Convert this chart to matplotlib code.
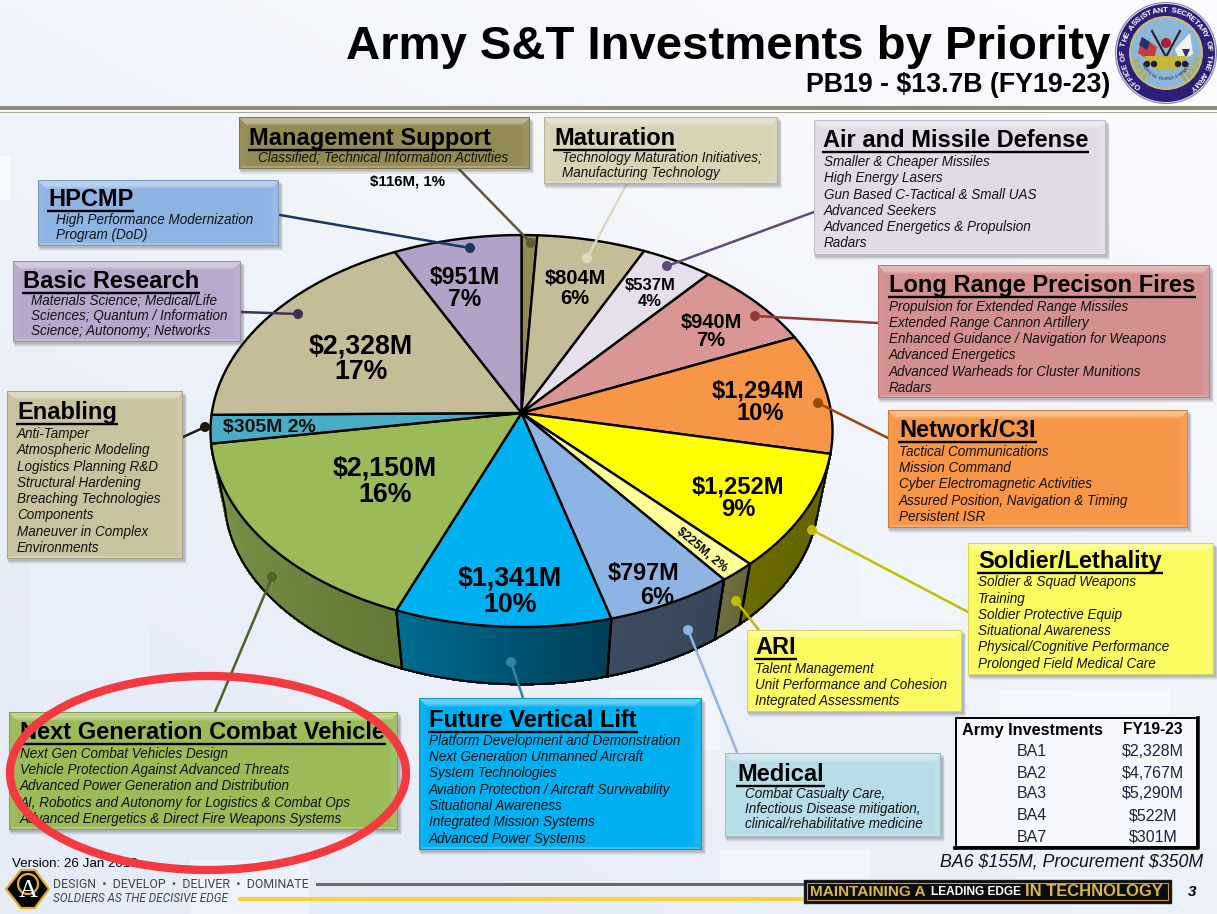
import numpy as np
import matplotlib
matplotlib.use('Agg')
import matplotlib.pyplot as plt
from matplotlib.patches import Polygon, Rectangle, Ellipse, Circle
from matplotlib.colors import to_rgb

plt.rcParams['font.family'] = ['Liberation Sans', 'DejaVu Sans']

# S&T portfolio, clockwise from twelve o'clock ($M)
priorities = ['Management Support', 'Maturation', 'Air and Missile Defense', 'Long Range Precison Fires',
              'Network/C3I', 'Soldier/Lethality', 'ARI', 'Medical', 'Future Vertical Lift',
              'Next Generation Combat Vehicle', 'Enabling', 'Basic Research', 'HPCMP']
amounts = [116, 804, 537, 940, 1294, 1252, 225, 797, 1341, 2150, 305, 2328, 951]
percents = [1, 6, 4, 7, 10, 9, 2, 6, 10, 16, 2, 17, 7]

items = {
    'Management Support': ['Classified; Technical Information Activities'],
    'Maturation': ['Technology Maturation Initiatives;', 'Manufacturing Technology'],
    'Air and Missile Defense': ['Smaller & Cheaper Missiles', 'High Energy Lasers', 'Gun Based C-Tactical & Small UAS',
                                'Advanced Seekers', 'Advanced Energetics & Propulsion', 'Radars'],
    'Long Range Precison Fires': ['Propulsion for Extended Range Missiles', 'Extended Range Cannon Artillery',
                                  'Enhanced Guidance / Navigation for Weapons', 'Advanced Energetics',
                                  'Advanced Warheads for Cluster Munitions', 'Radars'],
    'Network/C3I': ['Tactical Communications', 'Mission Command', 'Cyber Electromagnetic Activities',
                    'Assured Position, Navigation & Timing', 'Persistent ISR'],
    'Soldier/Lethality': ['Soldier & Squad Weapons', 'Training', 'Soldier Protective Equip', 'Situational Awareness',
                          'Physical/Cognitive Performance', 'Prolonged Field Medical Care'],
    'ARI': ['Talent Management', 'Unit Performance and Cohesion', 'Integrated Assessments'],
    'Medical': ['Combat Casualty Care,', 'Infectious Disease mitigation,', 'clinical/rehabilitative medicine'],
    'Future Vertical Lift': ['Platform Development and Demonstration', 'Next Generation Unmanned Aircraft',
                             'System Technologies', 'Aviation Protection / Aircraft Survivability',
                             'Situational Awareness', 'Integrated Mission Systems', 'Advanced Power Systems'],
    'Next Generation Combat Vehicle': ['Next Gen Combat Vehicles Design', 'Vehicle Protection Against Advanced Threats',
                                       'Advanced Power Generation and Distribution',
                                       'AI, Robotics and Autonomy for Logistics & Combat Ops',
                                       'Advanced Energetics & Direct Fire Weapons Systems'],
    'Enabling': ['Anti-Tamper', 'Atmospheric Modeling', 'Logistics Planning R&D', 'Structural Hardening',
                 'Breaching Technologies', 'Components', 'Maneuver in Complex', 'Environments'],
    'Basic Research': ['Materials Science; Medical/Life', 'Sciences; Quantum / Information',
                       'Science; Autonomy; Networks'],
    'HPCMP': ['High Performance Modernization', 'Program (DoD)'],
}

table_ba = ['BA1', 'BA2', 'BA3', 'BA4', 'BA7']
table_amounts = ['$2,328M', '$4,767M', '$5,290M', '$522M', '$301M']

top_colors = ['#948a54', '#c4bd97', '#e6e0ec', '#d99694', '#f79646', '#ffff00', '#ffff99',
              '#8eb4e3', '#00b0f0', '#9bbb59', '#4bacc6', '#c4bd97', '#b3a2c7']
# side shading, left end then right end of each visible wall
side_colors = {5: ('#6b6b00', '#5f5f00'), 6: ('#6e6e40', '#66663a'), 7: ('#3c4c60', '#374558'),
               8: ('#006c90', '#003f58'), 9: ('#7b954a', '#637a38')}

fig = plt.figure(figsize=(12.17, 9.14), dpi=100)
ax = fig.add_axes([0, 0, 1, 1])
ax.set_xlim(0, 1217)
ax.set_ylim(914, 0)
ax.axis('off')
ax.autoscale(False)
renderer = fig.canvas.get_renderer()


def lighter(c, f):
    c = np.array(to_rgb(c))
    if f >= 0:
        return c + (1 - c) * f
    return c * (1 + f)


# page background: pale blue wash with soft tiles, whiter towards the top right
gy, gx = np.mgrid[0:1:92j, 0:1:122j]
wash = np.clip(0.55 * gx + 0.75 * (1 - gy) - 0.2, 0, 1)[..., None]
bg = np.array(to_rgb('#e6ecf7')) * (1 - wash) + np.array(to_rgb('#fafbfe')) * wash
ax.imshow(bg, extent=(0, 1217, 914, 0), aspect='auto', zorder=0, interpolation='bilinear')
for tx, ty, tw, th, tc in [(0, 156, 10, 44, '#f8fafe'), (50, 120, 110, 60, '#eef3fb'), (160, 400, 50, 160, '#e9eff9'),
                           (30, 560, 120, 120, '#eaf0f9'), (190, 860, 120, 54, '#eef3fb'), (610, 690, 110, 60, '#f2f5fc'),
                           (720, 850, 150, 30, '#f2f5fc'), (860, 560, 100, 60, '#f1f5fc'), (1000, 690, 170, 24, '#f4f7fd')]:
    ax.add_patch(Rectangle((tx, ty), tw, th, fc=tc, ec='none', zorder=0.5))

# title block and rule
ax.text(1110, 47, 'Army S&T Investments by Priority', ha='right', va='center', fontsize=34, fontweight='bold', zorder=5)
ax.text(1110, 85, 'PB19 - \\$13.7B (FY19-23)', ha='right', va='center', fontsize=19.3, fontweight='bold', zorder=5)
ax.add_patch(Rectangle((0, 106), 1217, 4, fc='#8b8b76', ec='none', zorder=1))
ax.add_patch(Rectangle((0, 110), 1217, 1.2, fc='#ffffff', ec='none', zorder=1))
ax.add_patch(Rectangle((0, 111.5), 1217, 1.5, fc='#a8a898', ec='none', zorder=1))

# seal
SX, SY = 1166, 53
ax.add_patch(Circle((SX, SY), 50.5, fc='#dcdcec', ec='#8a86a8', lw=0.8, zorder=3))
ax.add_patch(Circle((SX, SY), 49, fc='#2d1f78', ec='none', zorder=3))
ax.add_patch(Circle((SX, SY), 36, fc='#8fb6d8', ec='#c8c070', lw=1.4, zorder=3))
seal_text = 'OFFICE OF THE ASSISTANT SECRETARY OF THE ARMY'
# narrow letters take a shorter step round the ring
steps = np.array([0.45 if ch == 'I' else 0.65 if ch == ' ' else 1.15 if ch == 'M' else 1.0 for ch in seal_text])
ring = np.cumsum(steps) - steps / 2
ring = ring / ring[-1]
for ch, frac in zip(seal_text, ring):
    phi = 232 - frac * 284
    px = SX + 42.5 * np.cos(np.radians(phi))
    py = SY - 42.5 * np.sin(np.radians(phi))
    ax.text(px, py, ch, fontsize=5.8, color='white', fontweight='bold', ha='center', va='center',
            rotation=phi - 90, zorder=4)
inner_text = 'ACQUISITION, LOGISTICS & TECHNOLOGY'
for i, ch in enumerate(inner_text):
    phi = 205 + i * (130 / (len(inner_text) - 1))
    px = SX + 26 * np.cos(np.radians(phi))
    py = SY - 26 * np.sin(np.radians(phi))
    ax.text(px, py, ch, fontsize=2.6, color='#202020', ha='center', va='center', rotation=phi + 90, zorder=4)
for phi in np.arange(195, 350, 11):
    if 235 < phi < 305:
        continue
    for r in (30, 33):
        ax.add_patch(Circle((SX + r * np.cos(np.radians(phi)), SY - r * np.sin(np.radians(phi))), 1.8,
                            fc='#b8ac3c', ec='none', zorder=3.5))
ax.add_patch(Polygon([(SX - 24, SY - 16), (SX - 9, SY - 6), (SX - 13, SY + 10), (SX - 28, SY)], fc='#c8383c', ec='none', zorder=3.6))
ax.add_patch(Polygon([(SX - 24, SY - 16), (SX - 16, SY - 11), (SX - 19, SY - 3), (SX - 27, SY - 8)], fc='#28306c', ec='none', zorder=3.7))
ax.add_patch(Polygon([(SX + 24, SY - 20), (SX + 9, SY - 4), (SX + 14, SY + 9), (SX + 27, SY + 1)], fc='#f2f2f2', ec='none', zorder=3.6))
ax.add_patch(Polygon([(SX + 16, SY - 4), (SX + 24, SY - 4), (SX + 20, SY + 5)], fc='#2d2d78', ec='none', zorder=3.7))
ax.add_patch(Polygon([(SX - 22, SY + 3), (SX + 22, SY + 3), (SX + 10, SY + 17), (SX - 10, SY + 17)], fc='#c4b93a', ec='none', zorder=3.8))
ax.add_patch(Circle((SX, SY - 10), 5, fc='#a52035', ec='none', zorder=3.9))
for dx in (-19, -12, 12, 19):
    ax.add_patch(Circle((SX + dx, SY + 11), 3.2, fc='#1e1e1e', ec='none', zorder=3.9))
ax.plot([SX - 14, SX - 1], [SY - 22, SY + 2], color='#222222', lw=1.5, zorder=3.9)
ax.plot([SX + 14, SX + 1], [SY - 22, SY + 2], color='#222222', lw=1.5, zorder=3.9)

# pie geometry: a tilted disc seen in perspective, hub offset above the ellipse centre
CX, CY = 521.5, 413
A, B, K = 309.7, 194.3, 0.0918
WALL_SCALE, WALL_DROP = 0.955, 67


def top_rim(theta):
    den = 1 + K * np.cos(theta)
    return CX + A * np.sin(theta) / den, CY - B * np.cos(theta) / den


def bottom_rim(theta):
    x, y = top_rim(theta)
    return CX + (x - CX) * WALL_SCALE, CY + (y - CY) * WALL_SCALE + WALL_DROP


edges = np.concatenate([[0], np.cumsum(amounts)]) / np.sum(amounts) * 2 * np.pi

# walls first
for i, (c0, c1) in side_colors.items():
    t = np.linspace(edges[i], edges[i + 1], 40)
    for t0, t1, f in zip(t[:-1], t[1:], np.linspace(0, 1, 39)):
        # theta runs right to left along the front of the disc
        col = lighter(c1, 0) * (1 - f) + lighter(c0, 0) * f
        xa, ya = top_rim(np.array([t0, t1]))
        xb, yb = bottom_rim(np.array([t0, t1]))
        ax.add_patch(Polygon(list(zip(xa, ya)) + list(zip(xb[::-1], yb[::-1])), fc=col, ec=col, lw=1.2,
                             antialiased=False, zorder=2))
    xb, yb = bottom_rim(t)
    ax.plot(xb, yb, color='black', lw=1.5, zorder=2.2)
    for te in (edges[i], edges[i + 1]):
        xa, ya = top_rim(te)
        xb, yb = bottom_rim(te)
        ax.plot([xa, xb], [ya, yb], color='black', lw=1.6 if te != edges[5] else 1.2, zorder=2.2)

for i, col in enumerate(top_colors):
    t = np.linspace(edges[i], edges[i + 1], 60)
    x, y = top_rim(t)
    ax.add_patch(Polygon([(CX, CY)] + list(zip(x, y)), fc=col, ec='black', lw=1.7, joinstyle='round', zorder=3))

# value labels on the slices
value_labels = [
    (1, (575, 279), (575, 299), 14.5),
    (2, (650, 285), (650, 301), 11.9),
    (3, (711, 322), (711, 341), 14.5),
    (4, (758, 391), (760, 414), 17.1),
    (5, (738, 487), (738, 510), 17.1),
    (7, (644, 573), (657, 597), 16.8),
    (8, (510, 579), (510, 605), 19.3),
    (9, (385, 469), (385, 495), 19.3),
    (11, (361, 346), (361, 372), 19.3),
    (12, (465, 277), (465, 299), 16.6),
]
for i, p_amt, p_pct, fs in value_labels:
    ax.text(*p_amt, f'\\${amounts[i]:,}M', ha='center', va='center', fontsize=fs, fontweight='bold', zorder=4)
    ax.text(*p_pct, f'{percents[i]}%', ha='center', va='center', fontsize=fs, fontweight='bold', zorder=4)
ax.text(269, 427, f'\\${amounts[10]}M {percents[10]}%', ha='center', va='center', fontsize=14, fontweight='bold',
        color='#111111', zorder=4)
ax.text(702, 550, f'\\${amounts[6]}M, {percents[6]}%', ha='center', va='center', fontsize=8.8, fontweight='bold',
        rotation=-40, rotation_mode='anchor', zorder=4)
ax.text(407, 182, f'\\${amounts[0]}M, {percents[0]}%', ha='center', va='center', fontsize=10.8, fontweight='bold', zorder=4)

# leader lines: box end, slice end, colour
leaders = [
    ((280, 215), (470, 248), '#17375e'),
    ((455, 165), (531, 243), '#5f5a34'),
    ((630, 178), (587, 258), '#ddd9c3'),
    ((814, 212), (667, 266), '#604a7b'),
    ((878, 323), (755, 316), '#953735'),
    ((888, 438), (818, 403), '#984807'),
    ((968, 612), (812, 530), '#c4bd00'),
    ((762, 634), (736, 601), '#c4bd00'),
    ((737, 752), (688, 630), '#8eb4e3'),
    ((523, 698), (511, 662), '#31859c'),
    ((215, 712), (272, 577), '#4f6228'),
    ((183, 437), (205, 427), '#1d1b10'),
    ((241, 312), (298, 314), '#403152'),
]
for (x0, y0), (x1, y1), col in leaders:
    ax.plot([x0, x1], [y0, y1], color=col, lw=1.8, zorder=5, solid_capstyle='round')
    ax.add_patch(Circle((x1, y1), 5, fc=col, ec='none', zorder=5))


def bevel_box(x0, y0, x1, y1, col, z=6, bevel=9):
    for off, a in ((5, 0.06), (4, 0.08), (3, 0.1), (2, 0.12)):
        ax.add_patch(Rectangle((x0 - 1 + off * 0.5, y0 + off), x1 - x0 + 2, y1 - y0, fc='#404040', ec='none', alpha=a, zorder=z))
    h, w = int(y1 - y0), int(x1 - x0)
    yy, xx = np.mgrid[0:h, 0:w]
    d = np.stack([yy, xx, w - 1 - xx, h - 1 - yy])
    side = d.argmin(axis=0)
    near = d.min(axis=0)
    # lit from above: bright top band, faint sides, thin bottom lip
    amount = np.array([0.38, 0.04, 0.09, 0.02])[side] * np.clip((bevel - near) / 4, 0, 1)
    base = np.array(to_rgb(col))
    img = base + (1 - base) * amount[..., None]
    lip = (side == 3) & (near < 3)
    img[lip] = lighter(col, 0.22)
    img[near < 1] = lighter(col, -0.15)
    ax.imshow(img, extent=(x0, x1, y1, y0), aspect='auto', zorder=z + 0.1, interpolation='bilinear')


HEAD_FS, ITEM_FS = 17, 9.75


def info_box(name, box, col, head_xy, item_x, item_ys):
    bevel_box(*box, col)
    t = ax.text(head_xy[0], head_xy[1] + 1.5, name, ha='left', va='center', fontsize=HEAD_FS, fontweight='bold', zorder=7)
    bb = t.get_window_extent(renderer)
    under = head_xy[1] + 13
    ax.plot([bb.x0 - 1, bb.x1 + 1], [under, under], color='black', lw=1.7, solid_capstyle='butt', zorder=7)
    for line, yy in zip(items[name], item_ys):
        ax.text(item_x, yy + 1, line, ha='left', va='center', fontsize=ITEM_FS, fontstyle='italic', color='#111111', zorder=7)


info_box('Management Support', (239, 117, 530, 169), '#948a54', (249, 137), 258, [157])
info_box('Maturation', (544, 117, 778, 184), '#d8d3b4', (554, 137), 562, [157, 172])
info_box('Air and Missile Defense', (814, 120, 1106, 255), '#e1dbe8', (823, 139), 824, [161, 177, 194, 210, 226, 242])
info_box('HPCMP', (38, 180, 279, 246), '#8eb4e3', (48, 198), 56, [219, 234])
info_box('Basic Research', (13, 261, 241, 342), '#b8a8cb', (23, 280), 31, [300, 315, 330])
info_box('Long Range Precison Fires', (878, 265, 1210, 398), '#d48f8f', (889, 284), 889, [306, 322, 338, 354, 371, 387])
info_box('Enabling', (7, 391, 183, 559), '#c9c29e', (17, 411), 17, [433, 449, 466, 482, 498, 514, 531, 547])
info_box('Network/C3I', (888, 410, 1188, 528), '#f79646', (899, 429), 899, [451, 467, 483, 500, 516])
info_box('Soldier/Lethality', (968, 543, 1214, 675), '#fbfb60', (978, 560), 978, [581, 598, 614, 630, 646, 663])
info_box('ARI', (747, 630, 962, 712), '#fbfb60', (755, 646), 755, [668, 684, 700])
info_box('Future Vertical Lift', (419, 698, 702, 850), '#00b0f0', (429, 719), 429, [740, 756, 772, 789, 805, 821, 838])
info_box('Medical', (725, 753, 941, 837), '#b7dde8', (737, 773), 745, [793, 808, 823])
info_box('Next Generation Combat Vehicle', (9, 712, 398, 830), '#9bbb59', (20, 731), 20, [753, 769, 785, 802, 818])

# investment table
ax.add_patch(Rectangle((956, 718), 241, 129, fc='#f6f8fd', ec='black', lw=1.4, zorder=6))
ax.plot([1198, 1198, 955], [718, 848, 848], color='black', lw=2.6, zorder=6.1)
ax.text(962, 730, 'Army Investments', ha='left', va='center', fontsize=11.7, fontweight='bold', zorder=7)
ax.text(1153, 730, 'FY19-23', ha='center', va='center', fontsize=11.2, fontweight='bold', zorder=7)
for ba, amt, yy in zip(table_ba, table_amounts, [751, 773, 794, 816, 837]):
    ax.text(1032, yy, ba, ha='center', va='center', fontsize=11.5, color='#1f2440', zorder=7)
    ax.text(1153, yy, amt.replace('$', '\\$'), ha='center', va='center', fontsize=11.5, color='#1f2440', zorder=7)
ax.text(1203, 862, 'BA6 \\$155M, Procurement \\$350M', ha='right', va='center', fontsize=12.8, fontstyle='italic', color='#111122', zorder=7)

# footer
ax.text(12, 864, 'Version: 26 Jan 2018', ha='left', va='center', fontsize=9.6, zorder=5)
ax.add_patch(Rectangle((316, 882.5), 488, 3, fc='#6a6a6a', ec='none', zorder=5))
ax.add_patch(Rectangle((238, 897), 566, 4, fc='#fcd03c', ec='none', zorder=5))
ax.add_patch(Polygon([(21, 870), (35, 870), (49, 889), (35, 908), (21, 908), (6, 889)], fc='black', ec='#e8b020', lw=1.6, zorder=5))
ax.add_patch(Ellipse((28, 884), 20, 20, fc='none', ec='#e8b020', lw=1.6, zorder=5.1))
ax.text(28, 891, 'A', ha='center', va='center', fontsize=19, color='white', family=['Liberation Serif'], zorder=5.2)
ax.text(53, 884, 'DESIGN  \u2022  DEVELOP  \u2022  DELIVER  \u2022  DOMINATE', ha='left', va='center', fontsize=8.95,
        color='#444444', family=['Roboto', 'Liberation Sans'], zorder=5)
ax.text(53, 898, 'SOLDIERS AS THE DECISIVE EDGE', ha='left', va='center', fontsize=8.5, fontstyle='italic',
        color='#444444', family=['Roboto', 'Liberation Sans'], zorder=5)
ax.add_patch(Rectangle((804, 880), 367, 23, fc='#0c0c0c', ec='#1c1c1c', lw=1, zorder=5))
ax.add_patch(Rectangle((807, 883), 361, 17, fc='none', ec='#c4a02c', lw=0.8, zorder=5.1))
for s, xx, col, fs in [('MAINTAINING A', 810, '#d8b840', 11.1), ('LEADING EDGE', 931, '#ffffff', 8.6),
                       ('IN TECHNOLOGY', 1025, '#d8b840', 11.9)]:
    ax.text(xx, 892, s, ha='left', va='center', fontsize=fs, fontweight='bold', color=col, zorder=5.2)
ax.text(1192, 892, '3', ha='center', va='center', fontsize=11, fontweight='bold', fontstyle='italic', zorder=5)

# red emphasis ring round the combat vehicle box
ax.add_patch(Ellipse((208, 773), 396, 194, fc='none', ec='#f23a40', lw=6, zorder=8))

fig.savefig('out.png', dpi=100)
